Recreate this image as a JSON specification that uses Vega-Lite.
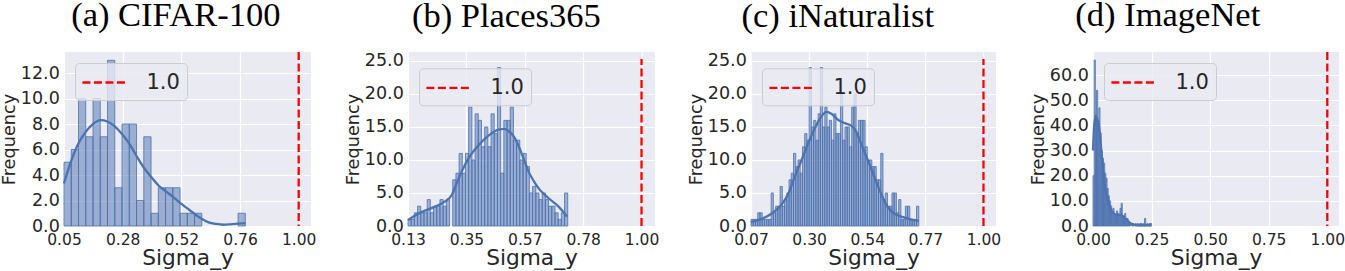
{
  "$schema": "https://vega.github.io/schema/vega-lite/v6.json",
  "padding": {"top": -3, "left": 0, "right": 0, "bottom": 0},
  "datasets": {
    "r": [{"a": 1.0, "lbl": "1.0"}],
    "h1": [
      {"a":0.0460,"b":0.0755,"n":5},{"a":0.0755,"b":0.1050,"n":6},{"a":0.1050,"b":0.1344,"n":10},{"a":0.1344,"b":0.1639,"n":7},
      {"a":0.1639,"b":0.1934,"n":10},{"a":0.1934,"b":0.2229,"n":7},{"a":0.2229,"b":0.2524,"n":13},{"a":0.2524,"b":0.2818,"n":3},
      {"a":0.2818,"b":0.3113,"n":8},{"a":0.3113,"b":0.3408,"n":8},{"a":0.3408,"b":0.3703,"n":2},{"a":0.3703,"b":0.3998,"n":7},
      {"a":0.3998,"b":0.4292,"n":1},{"a":0.4292,"b":0.4587,"n":3},{"a":0.4587,"b":0.4882,"n":3},{"a":0.4882,"b":0.5177,"n":3},
      {"a":0.5177,"b":0.5472,"n":1},{"a":0.5472,"b":0.5766,"n":1},{"a":0.5766,"b":0.6061,"n":1},{"a":0.7535,"b":0.7830,"n":1}
    ],
    "k1": [
      {"a":0.046,"n":3.35},{"a":0.073,"n":5.0},{"a":0.100,"n":6.3},{"a":0.131,"n":7.3},{"a":0.161,"n":7.95},{"a":0.195,"n":8.3},
      {"a":0.222,"n":8.2},{"a":0.250,"n":7.85},{"a":0.280,"n":7.25},{"a":0.310,"n":6.5},{"a":0.339,"n":5.55},{"a":0.368,"n":4.65},
      {"a":0.398,"n":3.9},{"a":0.429,"n":3.2},{"a":0.458,"n":2.75},{"a":0.488,"n":2.3},{"a":0.515,"n":1.85},{"a":0.546,"n":1.4},
      {"a":0.576,"n":0.96},{"a":0.605,"n":0.57},{"a":0.634,"n":0.29},{"a":0.664,"n":0.16},{"a":0.695,"n":0.1},{"a":0.722,"n":0.13},
      {"a":0.753,"n":0.18},{"a":0.783,"n":0.23}
    ],
    "h2": [
      {"a":0.1330,"b":0.1449,"n":1},{"a":0.1449,"b":0.1567,"n":1},{"a":0.1567,"b":0.1686,"n":2},{"a":0.1686,"b":0.1804,"n":3},
      {"a":0.1804,"b":0.1923,"n":2},{"a":0.1923,"b":0.2042,"n":2},{"a":0.2042,"b":0.2160,"n":4},{"a":0.2160,"b":0.2279,"n":2},
      {"a":0.2279,"b":0.2397,"n":3},{"a":0.2397,"b":0.2516,"n":3},{"a":0.2516,"b":0.2635,"n":4},{"a":0.2635,"b":0.2753,"n":3},
      {"a":0.2753,"b":0.2872,"n":4},{"a":0.2990,"b":0.3109,"n":7},{"a":0.3109,"b":0.3228,"n":8},{"a":0.3228,"b":0.3346,"n":11},
      {"a":0.3346,"b":0.3465,"n":8},{"a":0.3465,"b":0.3583,"n":11},{"a":0.3583,"b":0.3702,"n":18},{"a":0.3702,"b":0.3821,"n":10},
      {"a":0.3821,"b":0.3939,"n":17},{"a":0.3939,"b":0.4058,"n":16},{"a":0.4058,"b":0.4176,"n":12},{"a":0.4176,"b":0.4295,"n":15},
      {"a":0.4295,"b":0.4414,"n":12},{"a":0.4414,"b":0.4532,"n":17},{"a":0.4532,"b":0.4651,"n":14},{"a":0.4651,"b":0.4769,"n":24},
      {"a":0.4769,"b":0.4888,"n":8},{"a":0.4888,"b":0.5007,"n":16},{"a":0.5007,"b":0.5125,"n":16},{"a":0.5125,"b":0.5244,"n":18},
      {"a":0.5244,"b":0.5362,"n":13},{"a":0.5362,"b":0.5481,"n":13},{"a":0.5481,"b":0.5600,"n":10},{"a":0.5600,"b":0.5718,"n":11},
      {"a":0.5718,"b":0.5837,"n":9},{"a":0.5837,"b":0.5955,"n":5},{"a":0.5955,"b":0.6074,"n":6},{"a":0.6074,"b":0.6193,"n":5},
      {"a":0.6193,"b":0.6311,"n":4},{"a":0.6311,"b":0.6430,"n":5},{"a":0.6430,"b":0.6548,"n":4},{"a":0.6548,"b":0.6667,"n":3},
      {"a":0.6667,"b":0.6786,"n":3},{"a":0.6786,"b":0.6904,"n":2},{"a":0.6904,"b":0.7023,"n":1},{"a":0.7023,"b":0.7141,"n":2},
      {"a":0.7141,"b":0.7260,"n":5}
    ],
    "k2": [
      {"a":0.133,"n":0.9},{"a":0.183,"n":2.1},{"a":0.232,"n":2.9},{"a":0.268,"n":3.65},{"a":0.295,"n":4.65},{"a":0.313,"n":6.4},
      {"a":0.332,"n":8.2},{"a":0.357,"n":10.2},{"a":0.394,"n":12.2},{"a":0.432,"n":13.7},{"a":0.469,"n":14.6},{"a":0.490,"n":14.7},
      {"a":0.506,"n":14.4},{"a":0.525,"n":13.6},{"a":0.543,"n":12.2},{"a":0.562,"n":10.2},{"a":0.581,"n":8.2},{"a":0.600,"n":6.8},
      {"a":0.618,"n":5.7},{"a":0.655,"n":4.2},{"a":0.693,"n":2.9},{"a":0.724,"n":1.4}
    ],
    "h3": [
      {"a":0.0720,"b":0.0809,"n":1},{"a":0.0809,"b":0.0899,"n":1},{"a":0.0899,"b":0.0988,"n":1},{"a":0.0988,"b":0.1077,"n":2},
      {"a":0.1077,"b":0.1167,"n":2},{"a":0.1167,"b":0.1256,"n":1},{"a":0.1256,"b":0.1345,"n":1},{"a":0.1345,"b":0.1434,"n":1},
      {"a":0.1434,"b":0.1524,"n":1},{"a":0.1524,"b":0.1613,"n":5},{"a":0.1613,"b":0.1702,"n":2},{"a":0.1702,"b":0.1792,"n":3},
      {"a":0.1792,"b":0.1881,"n":3},{"a":0.1881,"b":0.1970,"n":6},{"a":0.1970,"b":0.2060,"n":3},{"a":0.2060,"b":0.2149,"n":4},
      {"a":0.2149,"b":0.2238,"n":5},{"a":0.2238,"b":0.2327,"n":7},{"a":0.2327,"b":0.2417,"n":8},{"a":0.2417,"b":0.2506,"n":11},
      {"a":0.2506,"b":0.2595,"n":9},{"a":0.2595,"b":0.2685,"n":10},{"a":0.2685,"b":0.2774,"n":8},{"a":0.2774,"b":0.2863,"n":12},
      {"a":0.2863,"b":0.2953,"n":14},{"a":0.2953,"b":0.3042,"n":13},{"a":0.3042,"b":0.3131,"n":24},{"a":0.3131,"b":0.3220,"n":15},
      {"a":0.3220,"b":0.3310,"n":16},{"a":0.3310,"b":0.3399,"n":13},{"a":0.3399,"b":0.3488,"n":17},{"a":0.3488,"b":0.3578,"n":24},
      {"a":0.3578,"b":0.3667,"n":15},{"a":0.3667,"b":0.3756,"n":18},{"a":0.3756,"b":0.3846,"n":15},{"a":0.3846,"b":0.3935,"n":16},
      {"a":0.3935,"b":0.4024,"n":13},{"a":0.4024,"b":0.4113,"n":17},{"a":0.4113,"b":0.4203,"n":14},{"a":0.4203,"b":0.4292,"n":14},
      {"a":0.4292,"b":0.4381,"n":20},{"a":0.4381,"b":0.4471,"n":13},{"a":0.4471,"b":0.4560,"n":15},{"a":0.4560,"b":0.4649,"n":15},
      {"a":0.4649,"b":0.4739,"n":12},{"a":0.4739,"b":0.4828,"n":18},{"a":0.4828,"b":0.4917,"n":20},{"a":0.4917,"b":0.5006,"n":14},
      {"a":0.5006,"b":0.5096,"n":16},{"a":0.5096,"b":0.5185,"n":16},{"a":0.5185,"b":0.5274,"n":16},{"a":0.5274,"b":0.5364,"n":12},
      {"a":0.5364,"b":0.5453,"n":10},{"a":0.5453,"b":0.5542,"n":10},{"a":0.5542,"b":0.5632,"n":9},{"a":0.5632,"b":0.5721,"n":9},
      {"a":0.5721,"b":0.5810,"n":7},{"a":0.5810,"b":0.5899,"n":7},{"a":0.5899,"b":0.5989,"n":11},{"a":0.5989,"b":0.6078,"n":4},
      {"a":0.6078,"b":0.6167,"n":5},{"a":0.6167,"b":0.6257,"n":3},{"a":0.6257,"b":0.6346,"n":3},{"a":0.6346,"b":0.6435,"n":5},
      {"a":0.6435,"b":0.6525,"n":5},{"a":0.6525,"b":0.6614,"n":2},{"a":0.6614,"b":0.6703,"n":4},{"a":0.6703,"b":0.6792,"n":1},
      {"a":0.6792,"b":0.6882,"n":1},{"a":0.6882,"b":0.6971,"n":3},{"a":0.6971,"b":0.7060,"n":3},{"a":0.7060,"b":0.7150,"n":1},
      {"a":0.7150,"b":0.7239,"n":1},{"a":0.7239,"b":0.7328,"n":1},{"a":0.7328,"b":0.7418,"n":3}
    ],
    "k3": [
      {"a":0.072,"n":0.6},{"a":0.116,"n":1.1},{"a":0.155,"n":1.9},{"a":0.195,"n":3.3},{"a":0.221,"n":4.9},{"a":0.247,"n":7.5},
      {"a":0.274,"n":10},{"a":0.300,"n":12.5},{"a":0.327,"n":14.8},{"a":0.353,"n":16.6},{"a":0.373,"n":17.3},{"a":0.393,"n":17.0},
      {"a":0.419,"n":16.1},{"a":0.445,"n":15.6},{"a":0.472,"n":15.2},{"a":0.492,"n":14.3},{"a":0.511,"n":12.5},{"a":0.538,"n":10},
      {"a":0.564,"n":7.5},{"a":0.591,"n":4.9},{"a":0.617,"n":2.9},{"a":0.643,"n":1.9},{"a":0.683,"n":1.3},{"a":0.709,"n":1.0},
      {"a":0.742,"n":0.76}
    ],
    "h4": [
      {"a":0.000,"b":0.005,"n":20},{"a":0.005,"b":0.010,"n":66},{"a":0.010,"b":0.015,"n":44},{"a":0.015,"b":0.020,"n":54},
      {"a":0.020,"b":0.025,"n":42},{"a":0.025,"b":0.030,"n":47},{"a":0.030,"b":0.035,"n":37},{"a":0.035,"b":0.040,"n":30},
      {"a":0.040,"b":0.045,"n":27},{"a":0.045,"b":0.050,"n":25},{"a":0.050,"b":0.055,"n":21},{"a":0.055,"b":0.060,"n":19},
      {"a":0.060,"b":0.065,"n":15},{"a":0.065,"b":0.070,"n":12},{"a":0.070,"b":0.075,"n":10},{"a":0.075,"b":0.080,"n":8},
      {"a":0.080,"b":0.085,"n":6},{"a":0.085,"b":0.090,"n":7},{"a":0.090,"b":0.095,"n":5},{"a":0.095,"b":0.100,"n":4},
      {"a":0.100,"b":0.105,"n":6},{"a":0.105,"b":0.110,"n":5},{"a":0.110,"b":0.115,"n":4},{"a":0.115,"b":0.120,"n":7},
      {"a":0.120,"b":0.125,"n":9},{"a":0.125,"b":0.130,"n":4},{"a":0.130,"b":0.135,"n":3},{"a":0.135,"b":0.140,"n":5},
      {"a":0.140,"b":0.145,"n":2},{"a":0.145,"b":0.150,"n":3},{"a":0.150,"b":0.155,"n":1},{"a":0.155,"b":0.160,"n":1},
      {"a":0.165,"b":0.170,"n":1},{"a":0.170,"b":0.175,"n":1},{"a":0.180,"b":0.185,"n":1},{"a":0.190,"b":0.195,"n":1},
      {"a":0.200,"b":0.205,"n":1},{"a":0.205,"b":0.210,"n":1},{"a":0.215,"b":0.220,"n":1},{"a":0.220,"b":0.225,"n":3},
      {"a":0.230,"b":0.235,"n":1},{"a":0.240,"b":0.245,"n":1},{"a":0.245,"b":0.250,"n":1}
    ],
    "k4": [
      {"a":0.000,"n":30},{"a":0.005,"n":40},{"a":0.0114,"n":43.5},{"a":0.018,"n":42.5},{"a":0.025,"n":40},{"a":0.031,"n":35},
      {"a":0.038,"n":27},{"a":0.045,"n":20},{"a":0.052,"n":15},{"a":0.060,"n":11},{"a":0.067,"n":8.7},{"a":0.074,"n":7},
      {"a":0.088,"n":5},{"a":0.102,"n":4.4},{"a":0.117,"n":4.4},{"a":0.131,"n":3.7},{"a":0.145,"n":2.4},{"a":0.160,"n":1.1},
      {"a":0.174,"n":0.5},{"a":0.190,"n":0.3},{"a":0.210,"n":0.3},{"a":0.230,"n":0.3},{"a":0.247,"n":0.3}
    ]
  },
  "resolve": {"scale": {"x": "independent", "y": "independent", "color": "independent"}, "legend": {"color": "independent"}, "axis": {"x": "independent", "y": "independent"}},
  "hconcat": [
    {
      "width": 247, "height": 174,
      "title": {"text": "(a) CIFAR-100", "offset": 17.5, "dx": -11.7},
      "layer": [
        {"data": {"name": "h1"}, "mark": {"type": "rect", "fill": "#4C72B0", "fillOpacity": 0.5, "stroke": "#4C72B0", "strokeOpacity": 0.8, "strokeWidth": 1},
         "encoding": {
           "x": {"field": "a", "type": "quantitative", "title": "Sigma_y", "scale": {"domain": [0.046, 1.05], "nice": false, "zero": false}, "axis": {"values": [0.046, 0.2845, 0.523, 0.7615, 1.0], "format": ".2f"}},
           "x2": {"field": "b"},
           "y": {"field": "n", "type": "quantitative", "title": "Frequency", "scale": {"domain": [0, 13.65], "nice": false}, "axis": {"values": [0, 2, 4, 6, 8, 10, 12], "format": ".1f"}},
           "y2": {"datum": 0}}},
        {"data": {"name": "k1"}, "mark": {"type": "line", "color": "#4C72B0", "strokeWidth": 2.3, "interpolate": "monotone"},
         "encoding": {
           "x": {"field": "a", "type": "quantitative", "title": "Sigma_y", "axis": {"values": [0.046, 0.2845, 0.523, 0.7615, 1.0], "format": ".2f"}},
           "y": {"field": "n", "type": "quantitative", "title": "Frequency", "axis": {"values": [0, 2, 4, 6, 8, 10, 12], "format": ".1f"}}}},
        {"data": {"name": "r"}, "mark": {"type": "rule", "strokeDash": [8, 3.5], "strokeWidth": 2.3},
         "encoding": {
           "x": {"field": "a", "type": "quantitative", "title": "Sigma_y", "axis": {"values": [0.046, 0.2845, 0.523, 0.7615, 1.0], "format": ".2f"}},
           "color": {"field": "lbl", "type": "nominal", "scale": {"range": ["#ff0000"]}, "legend": {"title": null}}}}
      ]
    },
    {
      "width": 247, "height": 174,
      "title": {"text": "(b) Places365", "offset": 17.5, "dx": -25.2},
      "layer": [
        {"data": {"name": "h2"}, "mark": {"type": "rect", "fill": "#4C72B0", "fillOpacity": 0.5, "stroke": "#4C72B0", "strokeOpacity": 0.8, "strokeWidth": 1},
         "encoding": {
           "x": {"field": "a", "type": "quantitative", "title": "Sigma_y", "scale": {"domain": [0.133, 1.05], "nice": false, "zero": false}, "axis": {"values": [0.133, 0.34975, 0.5665, 0.78325, 1.0], "format": ".2f"}},
           "x2": {"field": "b"},
           "y": {"field": "n", "type": "quantitative", "title": "Frequency", "scale": {"domain": [0, 26.36], "nice": false}, "axis": {"values": [0, 5, 10, 15, 20, 25], "format": ".1f"}},
           "y2": {"datum": 0}}},
        {"data": {"name": "k2"}, "mark": {"type": "line", "color": "#4C72B0", "strokeWidth": 2.3, "interpolate": "monotone"},
         "encoding": {
           "x": {"field": "a", "type": "quantitative", "title": "Sigma_y", "axis": {"values": [0.133, 0.34975, 0.5665, 0.78325, 1.0], "format": ".2f"}},
           "y": {"field": "n", "type": "quantitative", "title": "Frequency", "axis": {"values": [0, 5, 10, 15, 20, 25], "format": ".1f"}}}},
        {"mark": {"type": "rect", "fill": "#ffffff", "stroke": null},
         "encoding": {
           "x": {"datum": 0.133, "type": "quantitative", "title": "Sigma_y", "axis": {"values": [0.133, 0.34975, 0.5665, 0.78325, 1.0], "format": ".2f"}}, "x2": {"datum": 1.05},
           "y": {"datum": 25.3, "type": "quantitative", "title": "Frequency", "axis": {"values": [0, 5, 10, 15, 20, 25], "format": ".1f"}}, "y2": {"datum": 26.36}}},
        {"data": {"name": "r"}, "mark": {"type": "rule", "strokeDash": [8, 3.5], "strokeWidth": 2.3},
         "encoding": {
           "x": {"field": "a", "type": "quantitative", "title": "Sigma_y", "axis": {"values": [0.133, 0.34975, 0.5665, 0.78325, 1.0], "format": ".2f"}},
           "y": {"datum": 0, "type": "quantitative", "title": "Frequency", "axis": {"values": [0, 5, 10, 15, 20, 25], "format": ".1f"}}, "y2": {"datum": 25.3},
           "color": {"field": "lbl", "type": "nominal", "scale": {"range": ["#ff0000"]}, "legend": {"title": null, "orient": "none", "legendX": 11, "legendY": 16.3}}}}
      ]
    },
    {
      "width": 245, "height": 174,
      "title": {"text": "(c) iNaturalist", "offset": 17.5, "dx": -35.7},
      "layer": [
        {"data": {"name": "h3"}, "mark": {"type": "rect", "fill": "#4C72B0", "fillOpacity": 0.5, "stroke": "#4C72B0", "strokeOpacity": 0.8, "strokeWidth": 1},
         "encoding": {
           "x": {"field": "a", "type": "quantitative", "title": "Sigma_y", "scale": {"domain": [0.072, 1.05], "nice": false, "zero": false}, "axis": {"values": [0.072, 0.304, 0.536, 0.768, 1.0], "format": ".2f"}},
           "x2": {"field": "b"},
           "y": {"field": "n", "type": "quantitative", "title": "Frequency", "scale": {"domain": [0, 26.36], "nice": false}, "axis": {"values": [0, 5, 10, 15, 20, 25], "format": ".1f"}},
           "y2": {"datum": 0}}},
        {"data": {"name": "k3"}, "mark": {"type": "line", "color": "#4C72B0", "strokeWidth": 2.3, "interpolate": "monotone"},
         "encoding": {
           "x": {"field": "a", "type": "quantitative", "title": "Sigma_y", "axis": {"values": [0.072, 0.304, 0.536, 0.768, 1.0], "format": ".2f"}},
           "y": {"field": "n", "type": "quantitative", "title": "Frequency", "axis": {"values": [0, 5, 10, 15, 20, 25], "format": ".1f"}}}},
        {"mark": {"type": "rect", "fill": "#ffffff", "stroke": null},
         "encoding": {
           "x": {"datum": 0.072, "type": "quantitative", "title": "Sigma_y", "axis": {"values": [0.072, 0.304, 0.536, 0.768, 1.0], "format": ".2f"}}, "x2": {"datum": 1.05},
           "y": {"datum": 25.3, "type": "quantitative", "title": "Frequency", "axis": {"values": [0, 5, 10, 15, 20, 25], "format": ".1f"}}, "y2": {"datum": 26.36}}},
        {"data": {"name": "r"}, "mark": {"type": "rule", "strokeDash": [8, 3.5], "strokeWidth": 2.3},
         "encoding": {
           "x": {"field": "a", "type": "quantitative", "title": "Sigma_y", "axis": {"values": [0.072, 0.304, 0.536, 0.768, 1.0], "format": ".2f"}},
           "y": {"datum": 0, "type": "quantitative", "title": "Frequency", "axis": {"values": [0, 5, 10, 15, 20, 25], "format": ".1f"}}, "y2": {"datum": 25.3},
           "color": {"field": "lbl", "type": "nominal", "scale": {"range": ["#ff0000"]}, "legend": {"title": null, "orient": "none", "legendX": 11, "legendY": 16.3}}}}
      ]
    },
    {
      "width": 246, "height": 174,
      "title": {"text": "(d) ImageNet", "offset": 17.5, "dx": -48.2},
      "layer": [
        {"data": {"name": "h4"}, "mark": {"type": "rect", "fill": "#4C72B0", "fillOpacity": 0.5, "stroke": "#4C72B0", "strokeOpacity": 0.8, "strokeWidth": 1},
         "encoding": {
           "x": {"field": "a", "type": "quantitative", "title": "Sigma_y", "scale": {"domain": [0, 1.05], "nice": false, "zero": false}, "axis": {"values": [0, 0.25, 0.5, 0.75, 1.0], "format": ".2f"}},
           "x2": {"field": "b"},
           "y": {"field": "n", "type": "quantitative", "title": "Frequency", "scale": {"domain": [0, 69.2], "nice": false}, "axis": {"values": [0, 10, 20, 30, 40, 50, 60], "format": ".1f"}},
           "y2": {"datum": 0}}},
        {"data": {"name": "k4"}, "mark": {"type": "line", "color": "#4C72B0", "strokeWidth": 2.3, "interpolate": "monotone"},
         "encoding": {
           "x": {"field": "a", "type": "quantitative", "title": "Sigma_y", "axis": {"values": [0, 0.25, 0.5, 0.75, 1.0], "format": ".2f"}},
           "y": {"field": "n", "type": "quantitative", "title": "Frequency", "axis": {"values": [0, 10, 20, 30, 40, 50, 60], "format": ".1f"}}}},
        {"data": {"name": "r"}, "mark": {"type": "rule", "strokeDash": [8, 3.5], "strokeWidth": 2.3},
         "encoding": {
           "x": {"field": "a", "type": "quantitative", "title": "Sigma_y", "axis": {"values": [0, 0.25, 0.5, 0.75, 1.0], "format": ".2f"}},
           "color": {"field": "lbl", "type": "nominal", "scale": {"range": ["#ff0000"]}, "legend": {"title": null}}}}
      ]
    }
  ],
  "config": {
    "view": {"fill": "#EAEAF2", "stroke": null},
    "concat": {"spacing": 28},
    "title": {"font": "Liberation Serif", "fontSize": 34.5, "fontWeight": "normal", "color": "black", "baseline": "alphabetic", "frame": "group", "anchor": "middle"},
    "axis": {"domain": false, "ticks": false, "tickSize": 0, "grid": true, "gridColor": "#ffffff", "gridWidth": 1.2, "labelFont": "DejaVu Sans", "labelColor": "#262626", "titleFont": "DejaVu Sans", "titleColor": "#262626", "titleFontWeight": "normal", "labelFlush": false, "labelOverlap": false},
    "axisX": {"labelFontSize": 15.5, "titleFontSize": 21.7, "labelPadding": 6.3, "titlePadding": 0},
    "axisY": {"labelFontSize": 17.5, "titleFontSize": 17.7, "labelPadding": 4.7, "titlePadding": 2},
    "legend": {"orient": "top-left", "offset": 11, "symbolType": "M-1.1,0H2.9", "symbolSize": 484, "symbolStrokeWidth": 2.3, "symbolDash": [8, 3.5], "labelFontSize": 21, "labelFont": "DejaVu Sans", "labelColor": "#262626", "labelOffset": 39.4, "padding": 7, "fillColor": "rgba(234,234,242,0.8)", "strokeColor": "#cccccc", "cornerRadius": 4, "labelLimit": 300}
  }
}
